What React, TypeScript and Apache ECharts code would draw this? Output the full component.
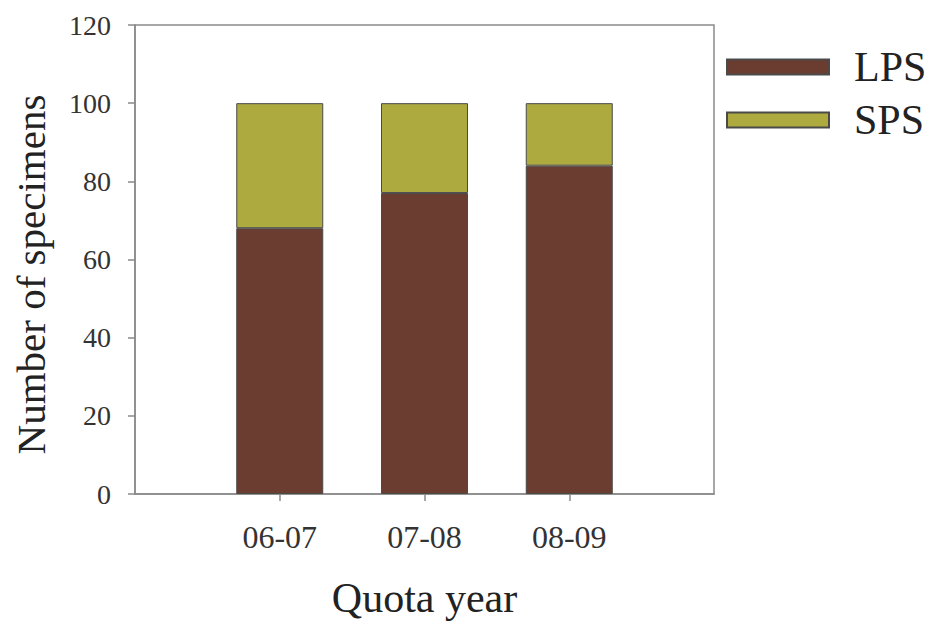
import React, { useEffect, useRef } from "react";
import * as echarts from "echarts";

const categories = ["06-07", "07-08", "08-09"];
const lpsValues = [68, 77, 84];
const spsValues = [32, 23, 16];
const yTicks = [0, 20, 40, 60, 80, 100, 120];

export default function App() {
  const ref = useRef<HTMLDivElement>(null);
  useEffect(() => {
    if (!ref.current) return;
    const chart = echarts.init(ref.current, undefined, { renderer: "svg" });
    const xCats = ["", ...categories, ""];
    const pad = (arr: number[]) => [null, ...arr, null];
    const font = "'Liberation Serif', 'Times New Roman', serif";
    const axisColor = "#8a8a8a";
    chart.setOption({
      animation: false,
      backgroundColor: "#fff",
      grid: {
        left: 135,
        right: 221,
        top: 25,
        bottom: 132,
        show: true,
        borderColor: axisColor,
        borderWidth: 1.5,
      },
      legend: {
        orient: "vertical",
        left: 721,
        top: 41,
        itemWidth: 102,
        itemHeight: 15,
        itemGap: 11,
        icon: "rect",
        textStyle: {
          fontFamily: font,
          fontSize: 42,
          lineHeight: 40,
          color: "#222",
          padding: [0, 0, 0, 20],
        },
        data: ["LPS", "SPS"],
      },
      xAxis: {
        type: "category",
        data: xCats,
        boundaryGap: false,
        name: "Quota year",
        nameLocation: "middle",
        nameGap: 83,
        nameTextStyle: { fontFamily: font, fontSize: 42, color: "#222" },
        axisLine: { lineStyle: { color: axisColor, width: 1.5 } },
        axisTick: {
          show: true,
          length: 7,
          inside: false,
          lineStyle: { color: axisColor, width: 1.5 },
          interval: (i: number) => i >= 1 && i <= categories.length,
        },
        axisLabel: {
          fontFamily: font,
          fontSize: 32,
          color: "#333",
          margin: 27,
          interval: 0,
        },
        splitLine: { show: false },
      },
      yAxis: {
        type: "value",
        min: yTicks[0],
        max: yTicks[yTicks.length - 1],
        interval: 20,
        name: "Number of specimens",
        nameLocation: "middle",
        nameGap: 84,
        nameTextStyle: {
          fontFamily: font,
          fontSize: 41,
          color: "#222",
          padding: [0, 30, 0, 0],
        },
        axisLine: { show: true, lineStyle: { color: axisColor, width: 1.5 } },
        axisTick: { show: true, length: 7, lineStyle: { color: axisColor, width: 1.5 } },
        axisLabel: { fontFamily: font, fontSize: 28, color: "#333", margin: 24 },
        splitLine: { show: false },
      },
      series: [
        {
          name: "LPS",
          type: "bar",
          stack: "total",
          barWidth: 87,
          data: pad(lpsValues),
          itemStyle: { color: "#6b3d30", borderColor: "#4a4a4a", borderWidth: 1 },
        },
        {
          name: "SPS",
          type: "bar",
          stack: "total",
          barWidth: 87,
          data: pad(spsValues),
          itemStyle: { color: "#adab40", borderColor: "#4a4a4a", borderWidth: 1 },
        },
      ],
    });
    return () => chart.dispose();
  }, []);
  return <div ref={ref} style={{ width: 935, height: 626, position: "absolute", left: 0, top: 0 }} />;
}
